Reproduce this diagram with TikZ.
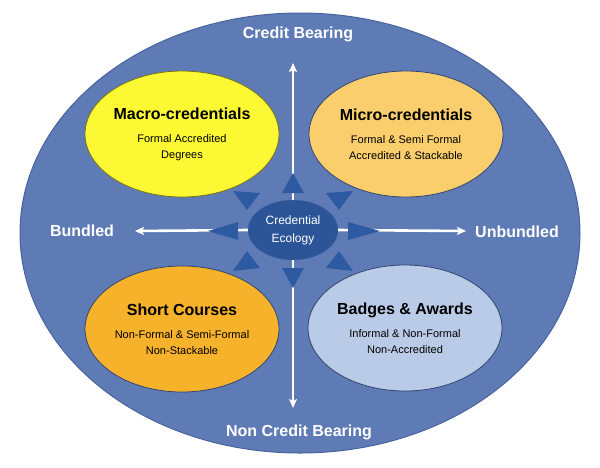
\documentclass[tikz,border=0pt]{standalone}
\usepackage{fontspec}
\setmainfont{Liberation Sans}
\usepackage{tikz}
\usetikzlibrary{shapes}
\usetikzlibrary{arrows.meta}
\usetikzlibrary{positioning}
\definecolor{fondbleu}{RGB}{94,123,182}
\definecolor{bordbleu}{RGB}{72,100,158}
\definecolor{ecobleu}{RGB}{44,85,152}
\definecolor{pointebleu}{RGB}{46,90,162}
\definecolor{macrojaune}{RGB}{252,248,52}
\definecolor{microorange}{RGB}{250,206,108}
\definecolor{courtorange}{RGB}{246,178,42}
\definecolor{badgebleu}{RGB}{186,203,232}
\tikzstyle{fond}=[ellipse,draw=bordbleu,line width=1pt,fill=fondbleu,
minimum width=560pt,minimum height=440pt,inner sep=0pt]
\tikzstyle{bulle}=[ellipse,draw=bordbleu!70!black,line width=0.8pt,
minimum width=194pt,minimum height=126pt,inner sep=0pt,align=center,
text=black,font=\fontsize{11}{15.5}\selectfont]
\tikzstyle{centre}=[ellipse,fill=ecobleu,draw=bordbleu,minimum width=90pt,
minimum height=60pt,inner sep=0pt,align=center,text=white,
font=\fontsize{12}{18}\selectfont]
\tikzstyle{pointe}=[fill=pointebleu]
\tikzstyle{axe}=[-{Stealth[length=9pt,width=8pt,inset=2pt]},white,line width=2.6pt]
\tikzstyle{etiquette}=[text=white,font=\fontsize{16}{18}\selectfont\bfseries]
\newcommand{\titre}[1]{{\fontsize{16}{19}\selectfont\bfseries #1}}

\begin{document}
\begin{tikzpicture}[x=1pt,y=-1pt]
\useasboundingbox (0,0) rectangle (600,467);
\node[fond] (fond) at (300,233) {};
\node[bulle,fill=macrojaune,draw=olive!80!black] (macro) at (182,134)
{\titre{Macro-credentials}\\[8pt]Formal Accredited\\Degrees};
\node[bulle,fill=microorange] (micro) at (406,134)
{\titre{Micro-credentials}\\[8pt]Formal \& Semi Formal\\Accredited \& Stackable};
\node[bulle,fill=courtorange] (court) at (182,329)
{\titre{Short Courses}\\[8pt]Non-Formal \& Semi-Formal\\Non-Stackable};
\node[bulle,fill=badgebleu] (badge) at (405,328)
{\titre{Badges \& Awards}\\[8pt]Informal \& Non-Formal\\Non-Accredited};
\node[centre] (eco) at (293,230) {Credential\\Ecology};
\node[etiquette] (credit) at (298,34) {Credit Bearing};
\node[etiquette] (noncredit) at (299,432) {Non Credit Bearing};
\node[etiquette] (bundled) at (82,231) {Bundled};
\node[etiquette] (unbundled) at (517,232) {Unbundled};
\coordinate (haut) at (293,63);
\coordinate (bas) at (293,408);
\coordinate (gauche) at (135,231);
\coordinate (droite) at (466,231);
%Placementdesflèches
\draw[axe] (eco.north) -- (haut);
\draw[axe] (eco.south) -- (bas);
\draw[axe] (eco.west) -- (gauche);
\draw[axe] (eco.east) -- (droite);
\fill[pointe] (293,173) -- (282,193) -- (304,193) -- cycle;
\fill[pointe] (293,288) -- (282,268) -- (304,268) -- cycle;
\fill[pointe] (208,231) -- (238,222) -- (238,240) -- cycle;
\fill[pointe] (380,231) -- (348,222) -- (348,240) -- cycle;
\fill[pointe] (233,191) -- (260,193) -- (247,210) -- cycle;
\fill[pointe] (353,191) -- (326,193) -- (339,210) -- cycle;
\fill[pointe] (233,271) -- (260,268) -- (247,251) -- cycle;
\fill[pointe] (353,271) -- (326,268) -- (339,251) -- cycle;
\end{tikzpicture}
\end{document}
